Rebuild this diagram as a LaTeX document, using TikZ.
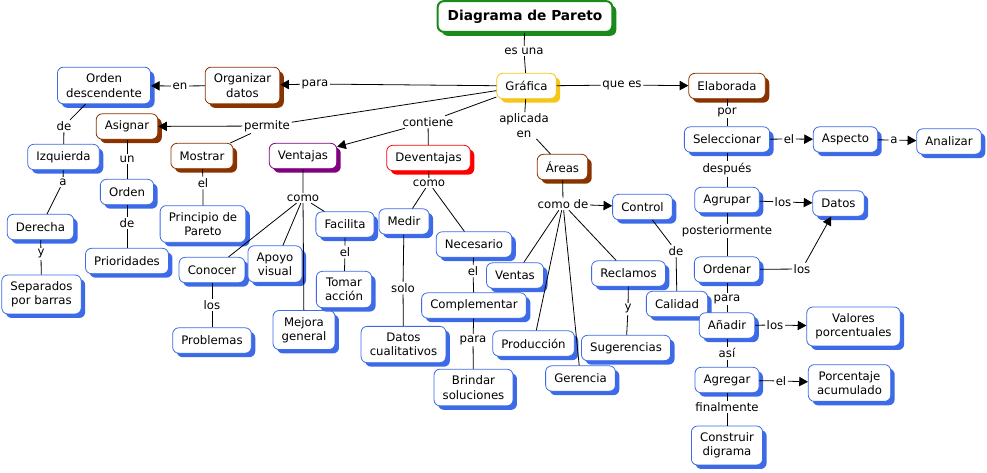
\documentclass[tikz,border=0pt]{standalone}
\usepackage{fontspec}
\setmainfont{DejaVu Sans}
\usetikzlibrary{shadows,arrows.meta}
\definecolor{azul}{RGB}{61,107,232}
\definecolor{cafe}{RGB}{139,51,0}
\definecolor{verde}{RGB}{26,138,26}
\definecolor{oro}{RGB}{245,197,24}
\definecolor{morado}{RGB}{128,0,128}
\definecolor{rojo}{RGB}{255,0,0}
\begin{document}
\begin{tikzpicture}[x=0.75pt,y=-0.75pt,font=\fontsize{8.8}{10.7}\selectfont,line width=0.6pt,
	concepto/.style={draw=#1,fill=white,rounded corners=4.5pt,line width=0.6pt,align=center,
		inner xsep=6.5pt,inner ysep=5pt,minimum height=19pt,
		general shadow={fill=#1,shadow xshift=3pt,shadow yshift=-3pt}},
	concepto/.default=azul,
	enlace/.style={inner sep=1pt,align=center},
	flecha/.style={-{Triangle[length=6.5pt,width=7pt]}}]
	\useasboundingbox (0,0) rectangle (987,472);
	% conceptos
	\node[concepto=verde,line width=1.5pt,font=\fontsize{10.3}{12}\selectfont\bfseries,minimum height=23pt,inner xsep=7.5pt] (diagrama) at (525,16.5) {Diagrama de Pareto};
	\node[concepto=oro] (grafica) at (526.5,86) {Gráfica};
	\node[concepto=cafe] (organizar) at (242.5,85.5) {Organizar\\datos};
	\node[concepto] (ordendesc) at (104,85.5) {Orden\\descendente};
	\node[concepto=cafe] (asignar) at (127,126.5) {Asignar};
	\node[concepto] (izquierda) at (63.5,157) {Izquierda};
	\node[concepto=cafe] (mostrar) at (202,156) {Mostrar};
	\node[concepto=morado] (ventajas) at (303,156) {Ventajas};
	\node[concepto=rojo] (deventajas) at (428.5,158) {Deventajas};
	\node[concepto=cafe] (areas) at (562.5,167) {Áreas};
	\node[concepto=cafe] (elaborada) at (727,86) {Elaborada};
	\node[concepto] (orden) at (127,192) {Orden};
	\node[concepto] (derecha) at (40.5,227) {Derecha};
	\node[concepto] (principio) at (203,224) {Principio de\\Pareto};
	\node[concepto] (prioridades) at (127,261) {Prioridades};
	\node[concepto] (separados) at (41.5,294.5) {Separados\\por barras};
	\node[concepto] (conocer) at (212,270) {Conocer};
	\node[concepto] (apoyo) at (275,264) {Apoyo\\visual};
	\node[concepto] (problemas) at (212,340.5) {Problemas};
	\node[concepto] (mejora) at (304,330) {Mejora\\general};
	\node[concepto] (facilita) at (345,224.5) {Facilita};
	\node[concepto] (tomar) at (344,289.5) {Tomar\\acción};
	\node[concepto] (medir) at (404,221.5) {Medir};
	\node[concepto] (necesario) at (474,244.5) {Necesario};
	\node[concepto] (complementar) at (474,305.5) {Complementar};
	\node[concepto] (datoscual) at (403.5,344.5) {Datos\\cualitativos};
	\node[concepto] (brindar) at (473.5,387.5) {Brindar\\soluciones};
	\node[concepto] (control) at (642.5,207) {Control};
	\node[concepto] (ventas) at (515,275.5) {Ventas};
	\node[concepto] (reclamos) at (628.5,273.5) {Reclamos};
	\node[concepto] (produccion) at (533.5,343.5) {Producción};
	\node[concepto] (sugerencias) at (626,348) {Sugerencias};
	\node[concepto] (gerencia) at (580.5,378.5) {Gerencia};
	\node[concepto] (calidad) at (677,304) {Calidad};
	\node[concepto] (seleccionar) at (727,139.5) {Seleccionar};
	\node[concepto] (aspecto) at (845.5,139.5) {Aspecto};
	\node[concepto] (analizar) at (949,141.5) {Analizar};
	\node[concepto] (agrupar) at (727,200) {Agrupar};
	\node[concepto] (datos) at (838.5,203.5) {Datos};
	\node[concepto] (ordenar) at (727,269.5) {Ordenar};
	\node[concepto] (anadir) at (727,325.5) {Añadir};
	\node[concepto] (valores) at (853.5,326.5) {Valores\\porcentuales};
	\node[concepto] (agregar) at (727,380) {Agregar};
	\node[concepto] (porcentaje) at (849.5,383) {Porcentaje\\acumulado};
	\node[concepto] (construir) at (727,445.5) {Construir\\digrama};
	% frases de enlace
	\node[enlace] (esuna) at (524,51) {es una};
	\node[enlace] (para1) at (315,84) {para};
	\node[enlace] (en1) at (180,86) {en};
	\node[enlace] (permite) at (267,126) {permite};
	\node[enlace] (contiene) at (428,122) {contiene};
	\node[enlace] (aplicada) at (524,125.5) {aplicada\\en};
	\node[enlace] (quees) at (622,85) {que es};
	\node[enlace] (de1) at (64,126) {de};
	\node[enlace] (a1) at (63,182) {a};
	\node[enlace] (y1) at (41,254) {y};
	\node[enlace] (un) at (127,159) {un};
	\node[enlace] (de2) at (127,223) {de};
	\node[enlace] (el1) at (203,183) {el};
	\node[enlace] (como1) at (303,198) {como};
	\node[enlace] (los1) at (212,305) {los};
	\node[enlace] (el2) at (345,252) {el};
	\node[enlace] (como2) at (429,183) {como};
	\node[enlace] (solo) at (403,288) {solo};
	\node[enlace] (el3) at (473,271) {el};
	\node[enlace] (para2) at (473,340) {para};
	\node[enlace] (comode) at (563,204) {como de};
	\node[enlace] (de3) at (676,251) {de};
	\node[enlace] (y2) at (628,309) {y};
	\node[enlace] (por) at (727,112) {por};
	\node[enlace] (el4) at (789,139) {el};
	\node[enlace] (a2) at (894,140) {a};
	\node[enlace] (despues) at (727,169) {después};
	\node[enlace] (los2) at (783,202) {los};
	\node[enlace] (posterior) at (727,231) {posteriormente};
	\node[enlace] (los3) at (802,269) {los};
	\node[enlace] (para3) at (727,299) {para};
	\node[enlace] (los4) at (775,325) {los};
	\node[enlace] (asi) at (727,353) {así};
	\node[enlace] (el5) at (781,381) {el};
	\node[enlace] (finalmente) at (727,407) {finalmente};
	% conexiones
	\draw (diagrama)--(esuna) (esuna)--(grafica);
	\draw (grafica)--(para1); \draw[flecha] (para1)--(organizar);
	\draw (organizar)--(en1); \draw[flecha] (en1)--(ordendesc);
	\draw (grafica)--(permite) (permite)--(mostrar); \draw[flecha] (permite)--(asignar);
	\draw (grafica)--(contiene) (contiene)--(deventajas); \draw[flecha] (contiene)--(ventajas);
	\draw (grafica)--(aplicada) (aplicada)--(areas);
	\draw (grafica)--(quees); \draw[flecha] (quees)--(elaborada);
	\draw (ordendesc)--(de1) (de1)--(izquierda) (izquierda)--(a1) (a1)--(derecha) (derecha)--(y1) (y1)--(separados);
	\draw (asignar)--(un) (un)--(orden) (orden)--(de2) (de2)--(prioridades);
	\draw (mostrar)--(el1) (el1)--(principio);
	\draw (ventajas)--(como1) (como1)--(conocer) (como1)--(apoyo) (como1)--(mejora) (como1)--(facilita);
	\draw (conocer)--(los1) (los1)--(problemas);
	\draw (facilita)--(el2) (el2)--(tomar);
	\draw (deventajas)--(como2) (como2)--(medir) (como2)--(necesario);
	\draw (medir)--(solo) (solo)--(datoscual);
	\draw (necesario)--(el3) (el3)--(complementar) (complementar)--(para2) (para2)--(brindar);
	\draw (areas)--(comode) (comode)--(ventas) (comode)--(produccion) (comode)--(gerencia) (comode)--(reclamos);
	\draw[flecha] (comode)--(control);
	\draw (control)--(de3) (de3)--(calidad);
	\draw (reclamos)--(y2) (y2)--(sugerencias);
	\draw (elaborada)--(por) (por)--(seleccionar);
	\draw (seleccionar)--(el4); \draw[flecha] (el4)--(aspecto);
	\draw (aspecto)--(a2); \draw[flecha] (a2)--(analizar);
	\draw (seleccionar)--(despues) (despues)--(agrupar);
	\draw (agrupar)--(los2); \draw[flecha] (los2)--(datos);
	\draw (agrupar)--(posterior) (posterior)--(ordenar);
	\draw (ordenar)--(los3); \draw[flecha] (los3)--(datos);
	\draw (ordenar)--(para3) (para3)--(anadir);
	\draw (anadir)--(los4); \draw[flecha] (los4)--(valores);
	\draw (anadir)--(asi) (asi)--(agregar);
	\draw (agregar)--(el5); \draw[flecha] (el5)--(porcentaje);
	\draw (agregar)--(finalmente) (finalmente)--(construir);
\end{tikzpicture}
\end{document}
